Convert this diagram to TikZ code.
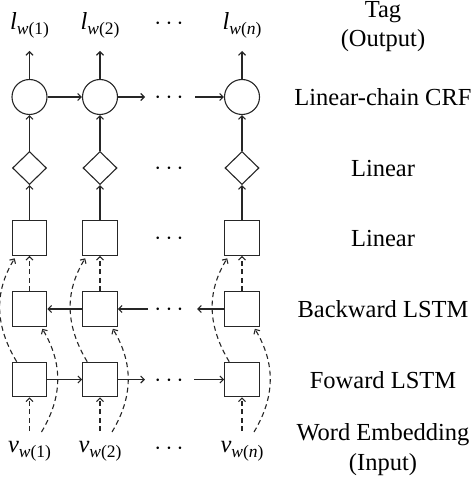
\documentclass[tikz,border=0pt]{standalone}
\usepackage{fontspec}
\setmainfont{Liberation Serif}
\usetikzlibrary{arrows.meta,shapes.geometric}
\definecolor{ink}{HTML}{262626}
\newcommand{\mylab}[2]{\textit{#1}\raisebox{-5pt}{\fontsize{17.5}{17.5}\selectfont\textit{w}(#2)}}
\begin{document}
\begin{tikzpicture}[x=1pt,y=-1pt,
  every node/.style={font=\fontsize{24.5}{29}\selectfont, text=black},
  arr/.style={draw=ink, line width=1.1pt, -{Straight Barb[length=3.5pt,width=7pt]}},
  darr/.style={arr, dash pattern=on 5pt off 3.5pt},
  crf/.style={circle, draw=ink, line width=1.1pt, minimum size=35pt, inner sep=0pt},
  lin/.style={diamond, draw=ink, line width=1.1pt, minimum width=34pt, minimum height=33pt, inner sep=0pt},
  cell/.style={rectangle, draw=ink, line width=1.1pt, minimum size=34.5pt, inner sep=0pt},
  dots/.style={anchor=base, font=\fontsize{25}{25}\selectfont},
  side/.style={anchor=base},
  ]
\useasboundingbox (0,0) rectangle (474,478);

\foreach \i/\c/\s in {1/29.5/1, 2/100/2, 3/242/{\textit{n}}} {
  \node[crf]  (c\i) at (\c,97) {};
  \node[lin]  (d\i) at (\c,168) {};
  \node[cell] (L\i) at (\c,238) {};
  \node[cell] (b\i) at (\c,309) {};
  \node[cell] (f\i) at (\c,379.5) {};
  \node[anchor=base] (t\i) at (\c,30) {\mylab{l}{\s}};
  \node[anchor=base] (v\i) at (\c,452) {\mylab{v}{\s}};
  \coordinate (ta\i) at (\c,51);
  \coordinate (vs\i) at (\c,431);
  \coordinate (vc\i) at (\c+12,432);
  \draw[arr] (c\i) -- (ta\i);
  \draw[arr] (d\i) -- (c\i);
  \draw[arr] (L\i) -- (d\i);
  \draw[darr] (b\i) -- (L\i);
  \draw[darr] (vs\i) -- (f\i);
  \draw[darr] ([xshift=5pt]f\i.north west) .. controls +(-21,-35) and +(-21.5,35) .. ([xshift=3pt,yshift=-2.5pt]L\i.south west);
  \draw[darr] (vc\i) .. controls +(21,-35) and +(21,35) .. ([xshift=-5pt,yshift=-2pt]b\i.south east);
}

% horizontal connections
\coordinate (hc1) at (145,97);
\coordinate (hc2) at (195,97);
\draw[arr] (c1) -- (c2);
\draw[arr] (c2) -- (hc1);
\draw[arr] (hc2) -- (c3);

\coordinate (hf1) at (145,379.5);
\coordinate (hf2) at (194,379.5);
\draw[arr] (f1) -- (f2);
\draw[arr] (f2) -- (hf1);
\draw[arr] (hf2) -- (f3);

\coordinate (hb1) at (197,309);
\coordinate (hb2) at (148,309);
\draw[arr] (b3) -- (hb1);
\draw[arr] (hb2) -- (b2);
\draw[arr] (b2) -- (b1);

% dots
\node[dots] (o1) at (169,29.5) {$\cdots$};
\node[dots] (o2) at (169,103.5) {$\cdots$};
\node[dots] (o3) at (169,174.5) {$\cdots$};
\node[dots] (o4) at (169,244.5) {$\cdots$};
\node[dots] (o5) at (169,315.5) {$\cdots$};
\node[dots] (o6) at (169,386) {$\cdots$};
\node[dots] (o7) at (169,454.5) {$\cdots$};

% side labels
\node[side] (s1) at (383,18) {Tag};
\node[side] (s2) at (383,47) {(Output)};
\node[side] (s3) at (383,106) {Linear-chain CRF};
\node[side] (s4) at (383,176) {Linear};
\node[side] (s5) at (383,246) {Linear};
\node[side] (s6) at (383,317) {Backward LSTM};
\node[side] (s7) at (383,388) {Foward LSTM};
\node[side] (s8) at (383,440) {Word Embedding};
\node[side] (s9) at (383,470) {(Input)};
\end{tikzpicture}
\end{document}
